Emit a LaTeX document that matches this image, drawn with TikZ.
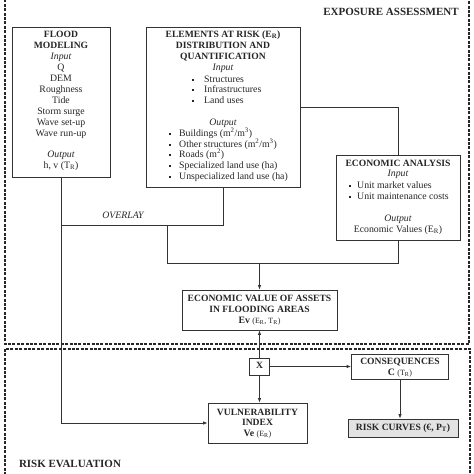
\documentclass[tikz,border=0pt]{standalone}
\usepackage{fontspec}
\setmainfont{Liberation Serif}
\usetikzlibrary{arrows.meta}
\begin{document}
\begin{tikzpicture}[x=1pt,y=-1pt,
  box/.style={draw=black!80, line width=0.8pt, inner sep=0pt, fill=white},
  zone/.style={draw=black!85, line width=1.2pt, dash pattern=on 3pt off 1.4pt},
  txt/.style={inner sep=0pt, anchor=mid, font=\fontsize{9.8}{10}\selectfont, text=black!85},
  ltxt/.style={txt, anchor=mid west},
  hd/.style={txt, font=\fontsize{9.6}{10}\selectfont\bfseries},
  it/.style={txt, font=\fontsize{9.8}{10}\selectfont\itshape},
  ttl/.style={inner sep=0pt, anchor=mid, font=\fontsize{11}{12}\selectfont\bfseries, text=black!85},
  conn/.style={draw=black!80, line width=0.8pt},
  arr/.style={conn, -{Latex[length=4.5pt,width=3.5pt]}},
  bul/.style={fill=black!85, inner sep=0pt, minimum size=2.4pt}
]
\useasboundingbox (0,0) rectangle (474,474);
% zones
\draw[zone] (5,-5) rectangle (469,344);
\draw[zone] (5,349) rectangle (470,480);
\node[ttl] (expt) at (391,13) {EXPOSURE ASSESSMENT};
\node[ttl] (riskt) at (70,465) {RISK EVALUATION};

% boxes
\node[box, minimum width=98pt, minimum height=150pt] (flood) at (61,102) {};
\node[box, minimum width=154pt, minimum height=160pt] (elem) at (223,107) {};
\node[box, minimum width=124pt, minimum height=85pt] (econ) at (398,197.5) {};
\node[box, minimum width=155pt, minimum height=40pt] (ev) at (259.5,310) {};
\node[box, minimum width=20pt, minimum height=17pt] (x) at (259.5,366.5) {};
\node[box, minimum width=99pt, minimum height=40pt] (vul) at (257.5,423) {};
\node[box, minimum width=97pt, minimum height=25pt] (cons) at (400,366.5) {};
\node[box, fill=gray!22, minimum width=110pt, minimum height=18pt] (risk) at (403,428) {};

% flood text
\node[hd] (f1) at (61,35) {FLOOD};
\node[hd] (f2) at (61,46) {MODELING};
\node[it] (f3) at (61,57) {Input};
\node[txt] (f4) at (61,68) {Q};
\node[txt] (f5) at (61,79) {DEM};
\node[txt] (f6) at (61,90) {Roughness};
\node[txt] (f7) at (61,101) {Tide};
\node[txt] (f8) at (61,112) {Storm surge};
\node[txt] (f9) at (61,123) {Wave set-up};
\node[txt] (f10) at (61,134) {Wave run-up};
\node[it] (f11) at (61,155) {Output};
\node[txt] (f12) at (61,166) {h, v (T\textsubscript{R})};

% elements text
\node[hd] (e1) at (223,35) {ELEMENTS AT RISK (E\textsubscript{R})};
\node[hd] (e2) at (223,46) {DISTRIBUTION AND};
\node[hd] (e3) at (223,57) {QUANTIFICATION};
\node[it] (e4) at (223,68) {Input};
\foreach \y/\t [count=\i] in {80/Structures,90/Infrastructures,101/Land uses}{
  \node[bul] (eb\i) at (193,\y) {};
  \node[ltxt] (ei\i) at (204,\y) {\t};
}
\node[it] (e5) at (223,123) {Output};
\foreach \y/\t [count=\i] in {134/{Buildings (m\textsuperscript{2}/m\textsuperscript{3})},145/{Other structures (m\textsuperscript{2}/m\textsuperscript{3})},155/{Roads (m\textsuperscript{2})},166/{Specialized land use (ha)},177/{Unspecialized land use (ha)}}{
  \node[bul] (ob\i) at (170,\y) {};
  \node[ltxt] (eo\i) at (179,\y) {\t};
}

% economic analysis text
\node[hd] (c1) at (398,164) {ECONOMIC ANALYSIS};
\node[it] (c2) at (398,174) {Input};
\foreach \y/\t [count=\i] in {186/Unit market values,197/Unit maintenance costs}{
  \node[bul] (cb\i) at (350,\y) {};
  \node[ltxt] (ci\i) at (357,\y) {\t};
}
\node[it] (c3) at (398,219) {Output};
\node[txt] (c4) at (398,230) {Economic Values (E\textsubscript{R})};

% ev text
\node[hd] (v1) at (259.5,299) {ECONOMIC VALUE OF ASSETS};
\node[hd] (v2) at (259.5,310) {IN FLOODING AREAS};
\node[txt] (v3) at (259.5,321) {\textbf{Ev} {\fontsize{8}{9}\selectfont(E\textsubscript{R}, T\textsubscript{R})}};

\node[hd] (xt) at (x) {X};

\node[hd] (u1) at (257.5,413) {VULNERABILITY};
\node[hd] (u2) at (257.5,423.5) {INDEX};
\node[txt] (u3) at (257.5,434) {\textbf{Ve} {\fontsize{8}{9}\selectfont(E\textsubscript{R})}};

\node[hd] (s1) at (400,362) {CONSEQUENCES};
\node[txt] (s2) at (400,373) {\textbf{C} {\fontsize{8}{9}\selectfont(T\textsubscript{R})}};

\node[hd] (r1) at (risk) {RISK CURVES (€, P\textsubscript{T})};

\node[it] (ovt) at (123,216) {OVERLAY};

% connectors
\coordinate (ovl) at (61,225);
\coordinate (j1) at (167,225);
\coordinate (j2) at (167,263.5);
\draw[arr] (flood.south) |- (vul.west);
\draw[conn] (elem.south) |- (ovl);
\draw[conn] (j1) -- (j2) -| (econ.south);
\draw[arr] (ev.north |- j2) -- (ev.north);
\draw[conn] (elem.east) -| (econ.north);
\draw[arr] (x.north) -- (x.north |- ev.south);
\draw[arr] (x.south) -- (x.south |- vul.north);
\draw[arr] (x.east) -- (x.east -| cons.west);
\draw[arr] (cons.south) -- (cons.south |- risk.north);
\end{tikzpicture}
\end{document}
